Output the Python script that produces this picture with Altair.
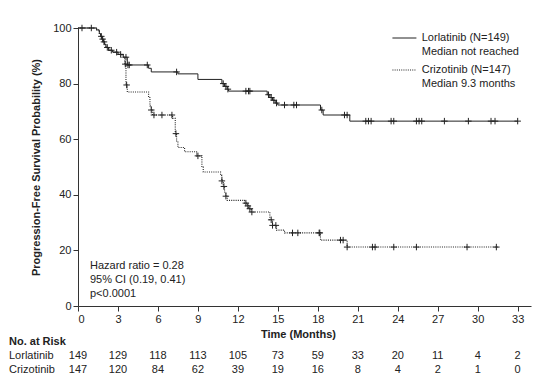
import altair as alt
import pandas as pd

FONT = "Liberation Sans"
INK = "#222222"

# ---------------- data ----------------
month_ticks = [0, 3, 6, 9, 12, 15, 18, 21, 24, 27, 30, 33]
pct_ticks = [0, 20, 40, 60, 80, 100]

lor_risk = [149, 129, 118, 113, 105, 73, 59, 33, 20, 11, 4, 2]
criz_risk = [147, 120, 84, 62, 39, 19, 16, 8, 4, 2, 1, 0]

# Kaplan-Meier steps (time in months, survival % after the step)
lor_t = [0, 1.4, 1.6, 1.7, 1.8, 1.9, 2.0, 2.1, 2.3, 2.6, 3.0, 3.4, 3.7, 5.3, 5.5,
         7.5, 9.0, 10.8, 11.0, 11.2, 11.3, 14.2, 14.4, 14.6, 14.8, 15.0, 18.2,
         18.4, 20.4, 33.0]
lor_s = [100, 99.3, 98, 97, 96, 95, 94, 93, 92, 91.3, 90.5, 89.5, 86.7, 85.5, 84.2,
         83.5, 81.5, 80, 79, 78, 77.3, 76, 75, 74, 73, 72.3, 70.5,
         68.7, 66.5, 66.5]
lor_cens = [0.3, 1.0, 1.75, 1.85, 1.95, 2.2, 2.5, 2.9, 3.2, 3.6, 3.75, 3.85, 5.2,
            7.4, 10.9, 11.1, 11.25, 12.6, 12.8, 12.9, 14.3, 14.5, 14.7, 14.9,
            15.5, 16.2, 16.4, 18.3, 20.0, 20.2, 21.6, 21.8, 22.0, 23.5, 23.7,
            25.4, 25.6, 25.8, 27.5, 29.3, 31.0, 31.3, 33.0]

criz_t = [0, 1.4, 1.6, 1.7, 1.8, 1.9, 2.0, 2.1, 2.3, 2.6, 3.0, 3.3, 3.5, 3.6, 3.7,
          5.3, 5.4, 5.5, 5.6, 7.1, 7.3, 7.4, 7.5, 8.0, 8.9, 9.3, 9.4, 10.7, 10.8,
          10.9, 11.0, 11.1, 11.2, 12.5, 12.7, 12.8, 13.0, 14.4, 14.6, 14.9, 15.5,
          18.2, 20.2, 31.5]
criz_s = [100, 99.3, 98, 97, 96, 95, 94, 93, 92, 91.3, 90.5, 89.5, 87, 79.5, 77,
          75, 72, 70.5, 68.7, 67.5, 62, 59, 57, 55.5, 54, 50, 48.2, 47, 45,
          43, 41, 39.5, 38, 37, 36, 35, 33.8, 31, 29, 27.3, 26.3,
          23.7, 21.2, 21.2]
criz_cens = [3.55, 3.65, 5.5, 5.7, 6.3, 7.05, 7.35, 9.0, 10.8, 10.95, 11.1,
             12.6, 12.75, 12.9, 13.05, 14.5, 14.6, 14.85, 16.1, 16.5, 18.1, 18.15,
             19.7, 19.9, 20.2, 22.1, 22.3, 23.7, 25.4, 29.2, 31.4]


def km_value(ts, ss, t):
    v = ss[0]
    for a, b in zip(ts, ss):
        if a <= t:
            v = b
    return v


lor_df = pd.DataFrame({"t": lor_t, "s": lor_s})
criz_df = pd.DataFrame({"t": criz_t, "s": criz_s})
lor_c_df = pd.DataFrame({"t": lor_cens, "s": [km_value(lor_t, lor_s, t) for t in lor_cens]})
criz_c_df = pd.DataFrame({"t": criz_cens, "s": [km_value(criz_t, criz_s, t) for t in criz_cens]})

risk_df = pd.DataFrame({"t": month_ticks, "lor": lor_risk, "criz": criz_risk})

# ---------------- encodings ----------------
X = alt.X("t:Q",
          scale=alt.Scale(domain=[0, 34], nice=False, zero=False),
          axis=alt.Axis(values=month_ticks, title="Time (Months)", grid=False,
                        titleX=220, titleY=22, titleBaseline="top",
                        titleAnchor="middle", labelPadding=2))
Y = alt.Y("s:Q",
          scale=alt.Scale(domain=[0, 100], nice=False),
          axis=alt.Axis(values=pct_ticks, title="Progression-Free Survival Probability (%)",
                        grid=False, titleX=-37, titleY=139, titleAnchor="middle",
                        labelPadding=2))

plus = "M-1,0L1,0M0,-1L0,1"

lor_line = alt.Chart(lor_df).mark_line(interpolate="step-after", color=INK,
                                       strokeWidth=1).encode(x=X, y=Y)
criz_line = alt.Chart(criz_df).mark_line(interpolate="step-after", color=INK,
                                         strokeWidth=1.1, strokeDash=[1, 1.2]).encode(x=X, y=Y)
lor_pts = alt.Chart(lor_c_df).mark_point(shape=plus, size=42, color=INK, filled=False,
                                         strokeWidth=1, opacity=1).encode(x=X, y=Y)
criz_pts = alt.Chart(criz_c_df).mark_point(shape=plus, size=42, color=INK, filled=False,
                                           strokeWidth=1, opacity=1).encode(x=X, y=Y)

# legend
leg_lines = pd.DataFrame({"t": [23.6, 23.6], "t2": [25.4, 25.4], "s": [96.4, 84.9],
                          "k": ["Lorlatinib", "Crizotinib"]})
leg_lor = alt.Chart(leg_lines.iloc[[0]]).mark_rule(color=INK, strokeWidth=1).encode(
    x="t:Q", x2="t2:Q", y="s:Q")
leg_criz = alt.Chart(leg_lines.iloc[[1]]).mark_rule(color=INK, strokeWidth=1.1,
                                                    strokeDash=[1, 1.2]).encode(
    x="t:Q", x2="t2:Q", y="s:Q")
leg_text = pd.DataFrame({
    "t": [25.8] * 4,
    "s": [96.4, 91.4, 84.9, 79.9],
    "label": ["Lorlatinib (N=149)", "Median not reached",
              "Crizotinib (N=147)", "Median 9.3 months"],
})
leg_txt = alt.Chart(leg_text).mark_text(align="left", baseline="middle", font=FONT,
                                        fontSize=11, color=INK).encode(
    x="t:Q", y="s:Q", text="label:N")

# annotation
ann = pd.DataFrame({"t": [0.9] * 3, "s": [14.4, 9.4, 4.3],
                    "label": ["Hazard ratio = 0.28", "95% CI (0.19, 0.41)", "p<0.0001"]})
ann_txt = alt.Chart(ann).mark_text(align="left", baseline="middle", font=FONT,
                                   fontSize=11, color=INK).encode(
    x="t:Q", y="s:Q", text="label:N")

# risk table
risk_head = alt.Chart(pd.DataFrame({"label": ["No.  at  Risk"]})).mark_text(
    align="left", baseline="middle", font=FONT, fontSize=11, fontWeight="bold",
    color=INK).encode(x=alt.value(-69), y=alt.value(314), text="label:N")
row_names = alt.Chart(pd.DataFrame({"label": ["Lorlatinib", "Crizotinib"],
                                    "yy": [328, 342]})).mark_text(
    align="left", baseline="middle", font=FONT, fontSize=11, color=INK).encode(
    x=alt.value(-69), y=alt.Y("yy:Q", scale=None), text="label:N")
lor_nums = alt.Chart(risk_df).mark_text(baseline="middle", font=FONT, fontSize=11,
                                        color=INK).encode(
    x="t:Q", y=alt.value(328), text="lor:Q")
criz_nums = alt.Chart(risk_df).mark_text(baseline="middle", font=FONT, fontSize=11,
                                         color=INK).encode(
    x="t:Q", y=alt.value(342), text="criz:Q")

chart = alt.layer(
    lor_line, criz_line, lor_pts, criz_pts,
    leg_lor, leg_criz, leg_txt, ann_txt,
    risk_head, row_names, lor_nums, criz_nums,
).properties(
    width=453, height=278,
    autosize=alt.AutoSizeParams(type="none"),
    padding={"left": 70, "top": 20, "right": 2, "bottom": 68},
    background="white",
).configure_view(stroke=None).configure_axis(
    labelFont=FONT, labelFontSize=11, labelColor=INK,
    titleFont=FONT, titleFontSize=11, titleFontWeight="bold", titleColor=INK,
    domainColor="#333333", tickColor="#333333", tickSize=5, domainWidth=1,
)

chart.save("out.html", embed_options={"renderer": "svg", "actions": False})
